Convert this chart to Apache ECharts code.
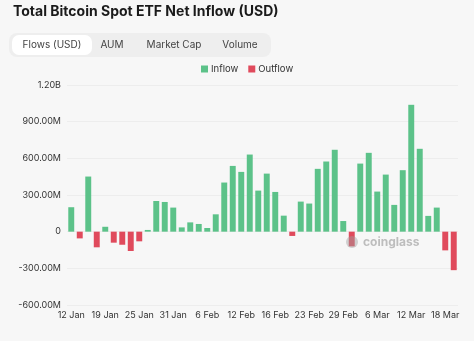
<!DOCTYPE html>
<html>
<head>
<meta charset="utf-8">
<script src="https://cdn.jsdelivr.net/npm/echarts@6/dist/echarts.min.js"></script>
<style>
html,body{margin:0;padding:0;background:#f7f7f7;}
#chart{width:474px;height:341px;}
</style>
</head>
<body>
<div id="chart"></div>
<script>
// Trading-day categories
const categories = ['12 Jan','16 Jan','17 Jan','18 Jan','19 Jan','22 Jan','23 Jan','24 Jan','25 Jan','26 Jan','29 Jan','30 Jan','31 Jan',
  '1 Feb','2 Feb','5 Feb','6 Feb','7 Feb','8 Feb','9 Feb','12 Feb','13 Feb','14 Feb','15 Feb','16 Feb','20 Feb','21 Feb','22 Feb','23 Feb',
  '26 Feb','27 Feb','28 Feb','29 Feb','1 Mar','4 Mar','5 Mar','6 Mar','7 Mar','8 Mar','11 Mar','12 Mar','13 Mar','14 Mar','15 Mar','18 Mar','19 Mar'];
// Net flow in millions USD
const netFlow = [200,-55,451,-128,40,-90,-107,-158,-79,14,251,243,197,35,76,63,30,142,402,538,489,631,336,475,325,131,-35,246,230,514,574,670,87,-120,557,645,328,467,219,503,1038,678,129,197,-153,-315];
const tabs = ['Flows (USD)','AUM','Market Cap','Volume'];
const yTicks = [-600e6,-300e6,0,300e6,600e6,900e6,1200e6];

const inflow = netFlow.map(v => v >= 0 ? v * 1e6 : '-');
const outflow = netFlow.map(v => v < 0 ? v * 1e6 : '-');

function fmt(v){
  if (v === 0) return '0';
  const a = Math.abs(v);
  if (a >= 1e9) return (v/1e9).toFixed(2) + 'B';
  return (v/1e6).toFixed(2) + 'M';
}

const chart = echarts.init(document.getElementById('chart'));
const font = 'Inter, "Noto Sans", sans-serif';
chart.setOption({
  backgroundColor: '#f7f7f7',
  animation: false,
  textStyle: {fontFamily: font},
  graphic: [
    {type:'text', left:13, top:5, style:{text:'Total Bitcoin Spot ETF Net Inflow (USD)', font:'bold 14px ' + font, fill:'#1a1a1a'}},
    {type:'rect', shape:{x:9, y:33, width:262, height:24, r:8}, style:{fill:'#eeeeee'}},
    {type:'rect', shape:{x:12, y:35, width:80, height:20, r:7}, style:{fill:'#ffffff'}},
    {type:'text', style:{text:tabs[0], x:52, y:45, align:'center', verticalAlign:'middle', font:'10px ' + font, fill:'#444'}},
    {type:'text', style:{text:tabs[1], x:112, y:45, align:'center', verticalAlign:'middle', font:'10px ' + font, fill:'#444'}},
    {type:'text', style:{text:tabs[2], x:174, y:45, align:'center', verticalAlign:'middle', font:'10px ' + font, fill:'#444'}},
    {type:'text', style:{text:tabs[3], x:240, y:45, align:'center', verticalAlign:'middle', font:'10px ' + font, fill:'#444'}},
    {type:'circle', shape:{cx:352, cy:242, r:6}, style:{fill:'rgba(160,160,160,0.45)'}, z:10},
    {type:'text', style:{text:'coinglass', x:363, y:242, verticalAlign:'middle', font:'bold 12px ' + font, fill:'rgba(150,150,150,0.6)'}, z:10}
  ],
  legend: {
    left: 196, top: 59,
    itemWidth: 7, itemHeight: 7, itemGap: 10,
    icon: 'rect',
    textStyle: {fontSize: 9.5, color: '#333', padding:[0,0,0,-2]},
    data: ['Inflow','Outflow']
  },
  grid: {left: 67, right: 16, top: 85, bottom: 36},
  xAxis: {
    type: 'category',
    data: categories,
    axisLine: {show: false},
    axisTick: {show: false},
    axisLabel: {interval: 3, fontSize: 9, color: '#333', margin: 6}
  },
  yAxis: {
    type: 'value',
    min: yTicks[0], max: yTicks[yTicks.length-1], interval: 300e6,
    axisLabel: {formatter: fmt, fontSize: 9, color: '#333', margin: 6},
    splitLine: {lineStyle: {color: '#ededed', width: 1}}
  },
  series: [
    {name:'Inflow', type:'bar', stack:'flow', data: inflow, barWidth:'70%', itemStyle:{color:'#5cc289'}},
    {name:'Outflow', type:'bar', stack:'flow', data: outflow, barWidth:'70%', itemStyle:{color:'#e04a5c'}}
  ]
});
</script>
</body>
</html>
